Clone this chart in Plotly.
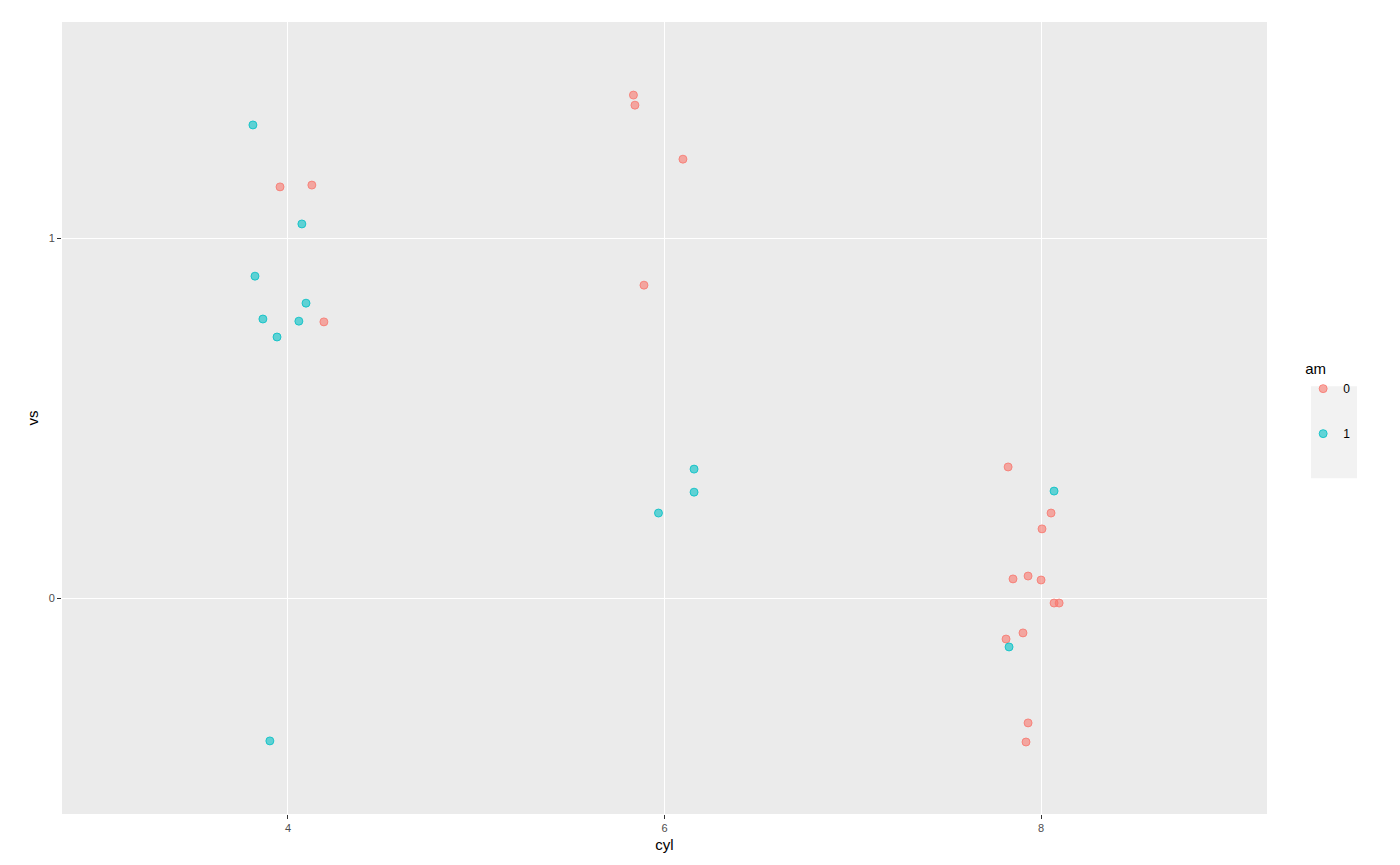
import plotly.graph_objects as go

# jittered cyl / vs values, split by am
cyl_am0 = [3.958, 4.127, 4.191, 5.835, 5.843, 6.098, 5.891, 7.825, 8.053, 8.005,
           7.851, 7.931, 8.000, 8.069, 8.096, 7.814, 7.904, 7.931, 7.920]
vs_am0 = [1.142, 1.147, 0.767, 1.397, 1.369, 1.219, 0.869, 0.364, 0.236, 0.192,
          0.053, 0.061, 0.050, -0.014, -0.014, -0.114, -0.097, -0.347, -0.400]
cyl_am1 = [3.814, 4.074, 3.825, 3.867, 3.942, 4.058, 4.096, 3.904, 6.157, 6.157,
           5.968, 8.069, 7.830]
vs_am1 = [1.314, 1.039, 0.894, 0.775, 0.725, 0.769, 0.819, -0.397, 0.358, 0.294,
          0.236, 0.297, -0.136]

fig = go.Figure()
for name, xs, ys, col, edge in [("0", cyl_am0, vs_am0, "rgba(248,118,109,0.6)", "#F8766D"),
                                ("1", cyl_am1, vs_am1, "rgba(0,191,196,0.6)", "#00BFC4")]:
    fig.add_trace(go.Scatter(x=xs, y=ys, mode="markers", name=name, legendgroup=name,
                             marker=dict(size=8, color=col, line=dict(color=edge, width=0.8))))

axis = dict(showgrid=True, gridcolor="white", gridwidth=1.3, zeroline=False,
            ticks="outside", ticklen=4, tickcolor="#333333", automargin=False,
            tickfont=dict(size=11, color="#4d4d4d"), showline=False)
fig.update_xaxes(axis, range=[2.8, 9.2], tickvals=[4, 6, 8],
                 title=dict(text="cyl", font=dict(size=15, color="black"), standoff=6))
fig.update_yaxes(axis, range=[-0.6, 1.6], tickvals=[0, 1],
                 title=dict(text="vs", font=dict(size=15, color="black"), standoff=6))

fig.add_shape(type="rect", xref="paper", yref="paper", x0=1.0365, x1=1.0747,
              y0=0.424, y1=0.540, fillcolor="#f2f2f2", line=dict(width=0), layer="below")

fig.update_layout(
    width=1400, height=865,
    margin=dict(l=54, r=141, t=14, b=59, autoexpand=False),
    plot_bgcolor="#ebebeb", paper_bgcolor="white",
    font=dict(family="Liberation Sans, Arial, sans-serif"),
    legend=dict(title=dict(text="am", font=dict(size=15, color="black")),
                x=1.03, y=0.58, yanchor="top", xanchor="left",
                font=dict(size=12, color="black"), tracegroupgap=26,
                bgcolor="rgba(0,0,0,0)"),
)
fig.write_html("out.html")
